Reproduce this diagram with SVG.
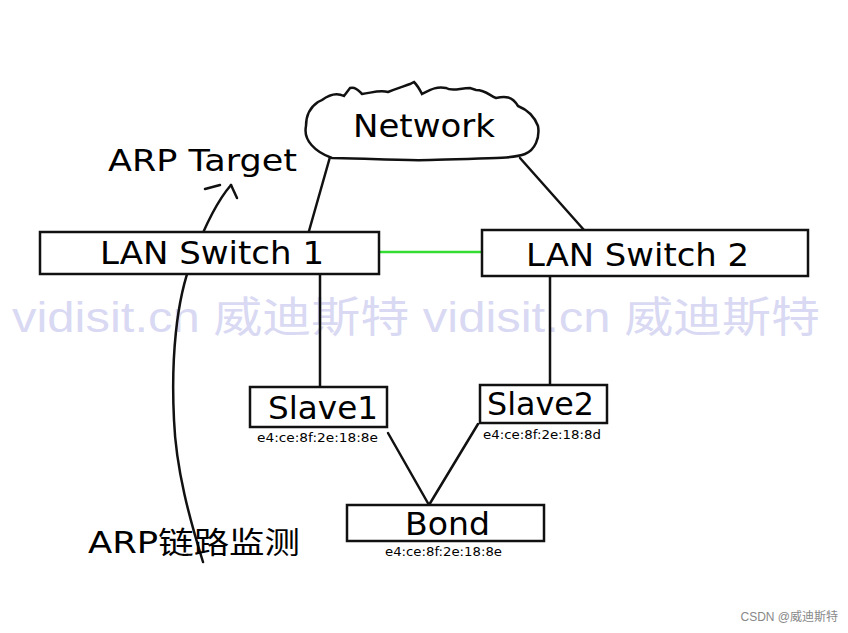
<svg xmlns="http://www.w3.org/2000/svg" width="848" height="633" viewBox="0 0 848 633">
<style>
.box{fill:#fff;stroke:#111;stroke-width:2.5}
.ln{fill:none;stroke:#111;stroke-width:2.5;stroke-linecap:round}
.t{font-family:"DejaVu Sans","Noto Sans CJK SC",sans-serif;fill:#000}
.mac{font-family:"DejaVu Sans",sans-serif;font-size:13px;fill:#000}
</style>
<rect width="848" height="633" fill="#fff"/>
<text x="12" y="332" textLength="808" lengthAdjust="spacingAndGlyphs" font-family="Liberation Sans,Noto Sans CJK SC,sans-serif" font-size="42" fill="#c8c8ee" fill-opacity="0.7">vidisit.cn 威迪斯特 vidisit.cn 威迪斯特</text>
<g id="connectors">
<line class="ln" x1="330" y1="157" x2="309" y2="231"/>
<line class="ln" x1="520" y1="158" x2="584" y2="230"/>
<line x1="380" y1="252" x2="482" y2="252" stroke="#33dd33" stroke-width="2.5"/>
<line class="ln" x1="320" y1="274" x2="320" y2="386"/>
<line class="ln" x1="550" y1="276" x2="550" y2="384"/>
<line class="ln" x1="388" y1="433" x2="429" y2="505"/>
<line class="ln" x1="478" y1="424" x2="429" y2="505"/>
<path class="ln" d="M203,562 C190,520 176,470 174,420 C171,360 176,300 192,260 C205,225 218,200 231,185"/>
<path class="ln" d="M205,189 L220,185 M231,185 L237,198"/>
</g>
<g id="network">
<path fill="#fff" stroke="#111" stroke-width="2.5" d="M332,158 C315,152 303,140 306,126 C306,114 312,106 318,102 L322,100 C330,94 338,93 344,96 L350,88 C356,86 360,92 362,94 C375,92 380,90 388,92 C398,88 405,86 410,84 L414,82 C418,86 420,90 422,94 C430,90 436,86 446,88 C452,92 460,88 470,88 L476,90 C486,90 490,96 496,98 C505,96 512,96 518,106 C528,110 535,118 538,126 C540,138 535,150 525,154 C510,160 470,158 430,160 C400,161 360,158 332,158 Z"/>
<text class="t" x="353" y="137" font-size="32" textLength="142" lengthAdjust="spacingAndGlyphs">Network</text>
</g>
<g id="switch1">
<rect class="box" x="40" y="232" width="339" height="42"/>
<text class="t" x="100" y="264" font-size="32" textLength="224" lengthAdjust="spacingAndGlyphs">LAN Switch 1</text>
</g>
<g id="switch2">
<rect class="box" x="482" y="230" width="326" height="46"/>
<text class="t" x="526" y="266" font-size="32" textLength="223" lengthAdjust="spacingAndGlyphs">LAN Switch 2</text>
</g>
<g id="slave1">
<rect class="box" x="250" y="387" width="137" height="40"/>
<text class="t" x="268" y="419" font-size="32" textLength="110" lengthAdjust="spacingAndGlyphs">Slave1</text>
<text class="mac" x="257" y="442" textLength="121" lengthAdjust="spacingAndGlyphs">e4:ce:8f:2e:18:8e</text>
</g>
<g id="slave2">
<rect class="box" x="480" y="385" width="127" height="38"/>
<text class="t" x="487" y="415" font-size="32" textLength="107" lengthAdjust="spacingAndGlyphs">Slave2</text>
<text class="mac" x="483" y="439" textLength="118" lengthAdjust="spacingAndGlyphs">e4:ce:8f:2e:18:8d</text>
</g>
<g id="bond">
<rect class="box" x="347" y="505" width="197" height="36"/>
<text class="t" x="405" y="535" font-size="32" textLength="85" lengthAdjust="spacingAndGlyphs">Bond</text>
<text class="mac" x="385" y="556" textLength="117" lengthAdjust="spacingAndGlyphs">e4:ce:8f:2e:18:8e</text>
</g>
<g id="labels">
<text class="t" x="108" y="171" font-size="30" textLength="189" lengthAdjust="spacingAndGlyphs">ARP Target</text>
<text class="t" x="88" y="553" font-size="30" textLength="212" lengthAdjust="spacingAndGlyphs">ARP链路监测</text>
</g>
<text x="838" y="621" text-anchor="end" font-family="Liberation Sans,Noto Sans CJK SC,sans-serif" font-size="12" fill="#888">CSDN @威迪斯特</text>
</svg>
